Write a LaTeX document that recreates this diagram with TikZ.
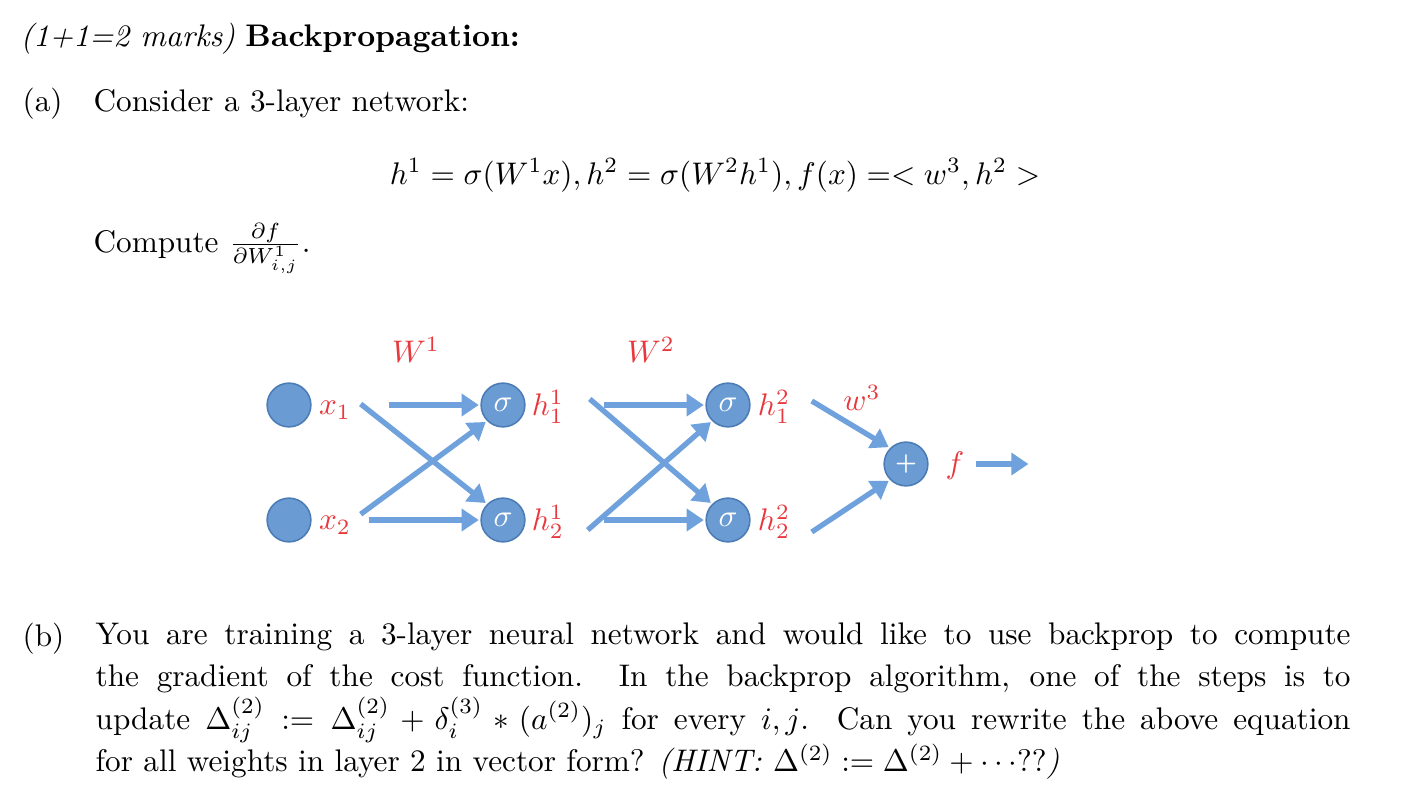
\documentclass[tikz,border=0pt]{standalone}
\usepackage{amsmath}
\usetikzlibrary{arrows.meta,positioning}
\definecolor{nodeblue}{HTML}{6A9BD2}
\definecolor{edgeblue}{HTML}{4C7CB5}
\definecolor{arrowblue}{HTML}{6FA2DC}
\definecolor{labelred}{HTML}{E8383D}
\tikzset{
  neuron/.style={circle, fill=nodeblue, draw=edgeblue, line width=0.5pt, minimum size=14pt, inner sep=0pt, text=white},
  lbl/.style={text=labelred, inner sep=1pt},
  link/.style={line width=1.7pt, draw=arrowblue, -{Triangle[length=5.5pt,width=7pt]}, shorten >=0.5pt},
  txt/.style={anchor=base west, inner sep=0pt}
}
\begin{document}
\begin{tikzpicture}[x=0.32pt,y=-0.32pt]
\useasboundingbox (0,0) rectangle (1422,808);
% text part (a)
\node[txt] (head) at (20,47) {\textit{(1+1=2 marks)} \textbf{Backpropagation:}};
\node[txt] (pa) at (22,111) {(a)};
\node[txt] (qa) at (93,111) {Consider a 3-layer network:};
\node[anchor=base, inner sep=0pt] (eq) at (715,184) {$h^1=\sigma(W^1x), h^2=\sigma(W^2h^1), f(x)=<w^3,h^2>$};
\node[txt] (comp) at (93,252) {Compute $\frac{\partial f}{\partial W^1_{i,j}}$.};
% network
\node[neuron] (in1) at (289,405) {};
\node[neuron] (in2) at (289,520) {};
\node[neuron] (s1a) at (503,405) {$\sigma$};
\node[neuron] (s1b) at (503,520) {$\sigma$};
\node[neuron] (s2a) at (728,405) {$\sigma$};
\node[neuron] (s2b) at (728,520) {$\sigma$};
\node[neuron] (sum) at (906,464) {\scriptsize\textbf{+}};
\node[lbl] (x1) at (335,410) {$x_1$};
\node[lbl] (x2) at (335,525) {$x_2$};
\node[lbl] (h11) at (548,407) {$h^1_1$};
\node[lbl] (h12) at (548,522) {$h^1_2$};
\node[lbl] (h21) at (774,407) {$h^2_1$};
\node[lbl] (h22) at (774,522) {$h^2_2$};
\node[lbl] (w3) at (862,398) {$w^3$};
\node[lbl] (f) at (955,466) {$f$};
\node[lbl] (W1) at (416,350) {$W^1$};
\node[lbl] (W2) at (651,350) {$W^2$};
\coordinate (fout) at (976,464);
\coordinate (out) at (1030,464);
\draw[link] (s1a.west -| x1.east) ++(34,0) -- (s1a.west);
\draw[link] ([shift={(6,-6)}]x1.east) -- (s1b.north west);
\draw[link] ([shift={(6,2)}]x2.north east) -- (s1a.south west);
\draw[link] (s1b.west -| x2.east) ++(14,0) -- (s1b.west);
\draw[link] (s2a.west -| h11.east) ++(36,0) -- (s2a.west);
\draw[link] ([shift={(22,-8)}]h11.east) -- (s2b.north west);
\draw[link] ([shift={(20,8)}]h12.east) -- (s2a.south west);
\draw[link] (s2b.west -| h12.east) ++(36,0) -- (s2b.west);
\draw[link] ([shift={(18,-6)}]h21.east) -- (sum.north west);
\draw[link] ([shift={(18,10)}]h22.east) -- (sum.south west);
\draw[link] (fout) -- (out);
% text part (b)
\node[txt] (pb) at (22,646) {(b)};
\node[anchor=north west, inner sep=0pt, text width=401.6pt, align=justify] (qb) at (95,622)
{\baselineskip=13.6pt You are training a 3-layer neural network and would like to use backprop to compute\linebreak
the gradient of the cost function. In the backprop algorithm, one of the steps is to\linebreak
update $\Delta^{(2)}_{ij} := \Delta^{(2)}_{ij} + \delta^{(3)}_i * (a^{(2)})_j$ for every $i,j$. Can you rewrite the above equation\linebreak
for all weights in layer 2 in vector form? \textit{(HINT: $\Delta^{(2)} := \Delta^{(2)} + \cdots ??$)}\par};
\end{tikzpicture}
\end{document}
